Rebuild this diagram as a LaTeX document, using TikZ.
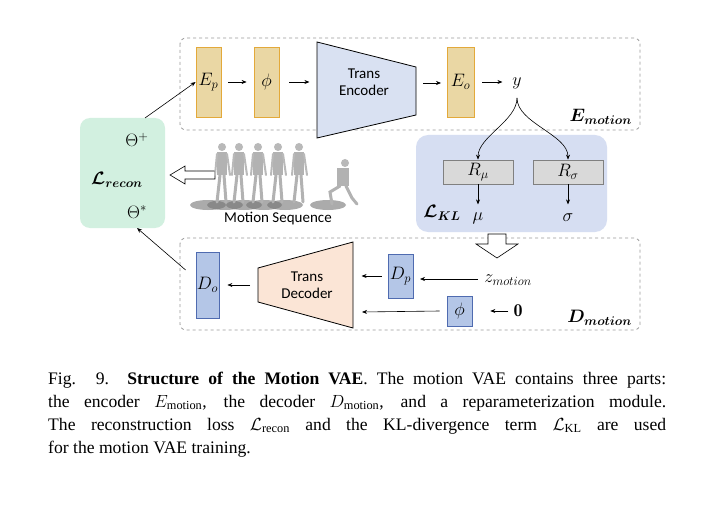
\RequirePackage{fix-cm}
\documentclass[tikz,border=0pt]{standalone}
\usepackage{amsmath}
\usepackage{fontspec}
\newfontfamily\carl{Carlito}
\newfontfamily\capf{Liberation Serif}
\usetikzlibrary{arrows.meta}
\definecolor{encY}{HTML}{EAD7A4}
\definecolor{encYb}{HTML}{E3A93A}
\definecolor{decB}{HTML}{B4C6E7}
\definecolor{decBb}{HTML}{4F6BB0}
\definecolor{encT}{HTML}{D9E1F2}
\definecolor{decT}{HTML}{FBE5D6}
\definecolor{grn}{HTML}{D2F0E0}
\definecolor{kl}{HTML}{D6DEF2}
\definecolor{gbox}{HTML}{D9D9D9}
\tikzset{
 dbox/.style={draw=gray!80,dashed,rounded corners=6pt,line width=0.8pt},
 ybox/.style={draw=encYb,fill=encY,line width=0.8pt},
 bbox/.style={draw=decBb,fill=decB,line width=0.8pt},
 gb/.style={draw=gray,fill=gbox,line width=0.8pt},
 arr/.style={-{Stealth[length=5pt,width=4pt]},line width=0.6pt},
 lab/.style={inner sep=0pt,font=\fontsize{18}{18}\selectfont},
 cl/.style={font=\carl\fontsize{15}{17}\selectfont,align=center},
 hollow/.style={draw=black,fill=white,line width=0.6pt},
 capl/.style={anchor=base west,inner sep=0pt,font=\capf\fontsize{17.6}{18}\selectfont},
}
\begin{document}
\begin{tikzpicture}[x=1pt,y=-1pt]
\useasboundingbox[fill=white] (0,0) rectangle (714,505);
% dashed boxes
\draw[dbox] (180,38) rectangle (640,130);
\draw[dbox] (180,238) rectangle (640,330);
% green box
\fill[grn,rounded corners=10pt] (80,118) rectangle (165,228);
\node[lab] (tp) at (137,140) {$\Theta^{+}$};
\node[lab] (lr) at (117,180) {$\boldsymbol{\mathcal{L}_{recon}}$};
\node[lab] (ts) at (137,212) {$\Theta^{*}$};
\coordinate (gtop) at (145,118);
\coordinate (gbot) at (137,228);
% encoder
\node[ybox,minimum width=25pt,minimum height=70pt,inner sep=0pt,lab] (ep) at (208.5,82) {$E_p$};
\node[ybox,minimum width=25pt,minimum height=70pt,inner sep=0pt,lab] (ph1) at (266.5,82) {$\phi$};
\draw[fill=encT,line width=0.8pt] (317,42) -- (416,67) -- (416,115) -- (317,138) -- cycle;
\node[cl] (enc) at (364,82) {Trans\\Encoder};
\coordinate (encR) at (416,83);
\node[ybox,minimum width=27pt,minimum height=70pt,inner sep=0pt,lab] (eo) at (460.5,82) {$E_o$};
\node[lab] (y) at (517,83) {$y$};
\node[lab,anchor=east] (em) at (632,117) {$\boldsymbol{E_{motion}}$};
\draw[arr] ([xshift=7pt]ep.east) -- ([xshift=-7pt]ph1.west);
\draw[arr] ([xshift=10pt]ph1.east) -- ++(20,0);
\draw[arr] ([xshift=7pt]encR) -- ++(18,0);
\draw[arr] ([xshift=8pt]eo.east) -- ++(20,0);
\draw[arr] (gtop) -- (ep.west);
% KL box
\fill[kl,rounded corners=12pt] (416,135) rectangle (607,232);
\node[gb,minimum width=70pt,minimum height=24pt,inner sep=0pt,lab] (rm) at (478,172) {$R_\mu$};
\node[gb,minimum width=70pt,minimum height=24pt,inner sep=0pt,lab] (rs) at (568,172) {$R_\sigma$};
\node[lab] (mu) at (478,218) {$\mu$};
\node[lab] (sg) at (568,218) {$\sigma$};
\node[lab] (lkl) at (442,213) {$\boldsymbol{\mathcal{L}_{KL}}$};
\draw[arr] (rm.south) -- ++(0,20);
\draw[arr] (rs.south) -- ++(0,20);
\coordinate (yb) at (517,98);
\draw[arr] (yb) to[out=-90,in=90,looseness=0.8] (rm.north);
\draw[arr] (yb) to[out=-90,in=90,looseness=0.8] (rs.north);
% hollow arrows
\draw[hollow] (488,234) -- (506,234) -- (506,244) -- (518,244) -- (497,258) -- (476,244) -- (488,244) -- cycle;
\draw[hollow] (215,171) -- (185,171) -- (185,166) -- (170,175) -- (185,184) -- (185,179) -- (215,179) -- cycle;
% motion sequence figures
\foreach \x in {220,237,256,276,297,340} {
  \fill[black!55,opacity=0.6] (\x-12,205) ellipse (18 and 5);
}
\foreach \x in {222,239,258,278,299} {
  \fill[gray!55] (\x,147) circle (4);
  \fill[gray!60] (\x-5,152) rectangle (\x+5,175);
  \draw[gray!60,line width=3pt,line cap=round] (\x-2,175) -- (\x-5,202);
  \draw[gray!60,line width=3pt,line cap=round] (\x+2,175) -- (\x+4,202);
  \draw[gray!55,line width=2pt,line cap=round] (\x-5,154) -- (\x-7,175);
  \draw[gray!55,line width=2pt,line cap=round] (\x+5,154) -- (\x+8,175);
}
\fill[gray!55] (345,163) circle (4);
\fill[gray!60] (337,168) rectangle (349,186);
\draw[gray!60,line width=3pt,line cap=round] (340,186) -- (330,192) -- (332,204);
\draw[gray!60,line width=3pt,line cap=round] (346,186) -- (352,198) -- (357,204);
\node[cl] (ms) at (278,219) {Motion Sequence};
% decoder
\node[bbox,minimum width=23pt,minimum height=66pt,inner sep=0pt,lab] (do) at (207.5,285) {$D_o$};
\draw[fill=decT,line width=0.8pt] (258,268) -- (353,242) -- (353,328) -- (258,302) -- cycle;
\node[cl] (dec) at (307,285) {Trans\\Decoder};
\node[bbox,minimum width=25pt,minimum height=44pt,inner sep=0pt,lab] (dp) at (400.5,276) {$D_p$};
\node[bbox,minimum width=25pt,minimum height=30pt,inner sep=0pt,lab] (ph2) at (459.5,311) {$\phi$};
\node[lab] (z) at (508,280) {$z_{motion}$};
\node[lab] (zero) at (518,311) {$\mathbf{0}$};
\node[lab,anchor=east] (dm) at (632,318) {$\boldsymbol{D_{motion}}$};
\draw[arr] (478,279) -- (420,279);
\draw[arr] ([xshift=-6pt]dp.west) -- ++(-20,0);
\draw[arr] ([xshift=-5pt]zero.west) -- ++(-18,0);
\draw[arr] ([xshift=-7pt]ph2.west) -- (362,312);
\draw[arr] (250,285) -- ([xshift=8pt]do.east);
\draw[arr] ([xshift=-10pt,yshift=15pt]do.west) -- (gbot);
% caption
\node[capl] (c1) at (48,384) {\makebox[618pt][s]{Fig. 9.\ \ \textbf{Structure of the Motion VAE}. The motion VAE contains three parts:}};
\node[capl] (c2) at (48,407) {\makebox[618pt][s]{the encoder $E_{\text{motion}}$, the decoder $D_{\text{motion}}$, and a reparameterization module.}};
\node[capl] (c3) at (48,430) {\makebox[618pt][s]{The reconstruction loss $\mathcal{L}_{\text{recon}}$ and the KL-divergence term $\mathcal{L}_{\text{KL}}$ are used}};
\node[capl] (c4) at (48,453) {for the motion VAE training.};
\end{tikzpicture}
\end{document}
